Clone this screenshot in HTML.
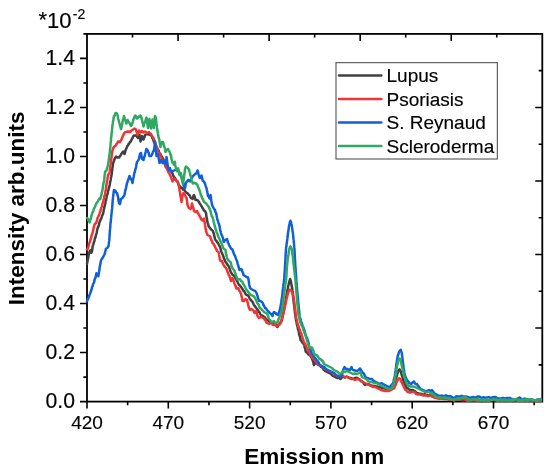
<!DOCTYPE html>
<html><head><meta charset="utf-8"><title>Emission spectra</title>
<style>html,body{margin:0;padding:0;background:#fff;}body{width:550px;height:473px;overflow:hidden;}svg{display:block;}</style>
</head><body>
<svg width="550" height="473" viewBox="0 0 550 473">
<rect width="550" height="473" fill="#fff"/>
<rect x="87.0" y="33.9" width="455.30" height="367.70" fill="none" stroke="#000" stroke-width="1.8"/><path d="M80.00 401.60H87.00M83.40 377.09H87.00M80.00 352.57H87.00M83.40 328.06H87.00M80.00 303.55H87.00M83.40 279.03H87.00M80.00 254.52H87.00M83.40 230.01H87.00M80.00 205.49H87.00M83.40 180.98H87.00M80.00 156.47H87.00M83.40 131.95H87.00M80.00 107.44H87.00M83.40 82.93H87.00M80.00 58.41H87.00M83.40 33.90H87.00M87.00 401.60V408.60M127.65 401.60V405.20M168.30 401.60V408.60M208.96 401.60V405.20M249.61 401.60V408.60M290.26 401.60V405.20M330.91 401.60V408.60M371.56 401.60V405.20M412.21 401.60V408.60M452.87 401.60V405.20M493.52 401.60V408.60M534.17 401.60V405.20M132.53 33.90V37.50M178.06 33.90V40.90M223.59 33.90V37.50M269.12 33.90V40.90M314.65 33.90V37.50M360.18 33.90V40.90M405.71 33.90V37.50M451.24 33.90V40.90M496.77 33.90V37.50M542.30 364.83H538.70M542.30 328.06H535.30M542.30 291.29H538.70M542.30 254.52H535.30M542.30 217.75H538.70M542.30 180.98H535.30M542.30 144.21H538.70M542.30 107.44H535.30M542.30 70.67H538.70" stroke="#000" stroke-width="1.6" fill="none"/>
<g>
<path d="M87,264 87.23,262.12 87.47,261.85 87.7,260 88,259.15 88.3,257.5 88.57,255.63 88.83,254.49 89.1,253 89.5,251.77 89.9,250.7 90.6,250.2 91,251.73 91.4,252.8 91.8,251.93 92.2,250.2 92.43,248.02 92.67,246.36 92.9,245.5 93.27,244.84 93.63,243.07 94,242 94.38,241.14 94.75,238.75 95.12,238.17 95.5,237 95.8,236.13 96.1,234.19 96.4,234.07 96.7,232.8 97,231 97.38,229.05 97.75,227.79 98.12,227.31 98.5,226 98.88,225.41 99.25,223.32 99.62,221.82 100,221 100.75,219.38 101.5,218 102,215.96 102.5,214.92 103,214 103.25,212.66 103.5,211.49 103.75,209.85 104,209 104.33,207.26 104.67,205.91 105,205 105.25,203.69 105.5,202.18 105.75,200.53 106,200.51 106.25,198.83 106.5,197.71 106.75,195.78 107,195 107.38,194.49 107.75,193.04 108.12,190.68 108.5,190 108.8,188.35 109.1,187.53 109.4,186.12 109.7,185.05 110,183 110.25,181.55 110.5,180.83 110.75,179.26 111,177.37 111.25,176.46 111.5,175 111.67,174.35 111.83,173.07 112,171.34 112.17,170.24 112.33,168.19 112.5,167.28 112.67,166.89 112.83,165.09 113,164 113.38,162.26 113.75,161.57 114.12,160.55 114.5,159 115.25,158.01 116,156.5 117.5,157.5 119,157.5 119.75,156.31 120.5,155.5 121.25,154.16 122,153 123.5,151.5 124,152.76 124.5,154 124.88,153.17 125.25,151.53 125.62,150.09 126,149 126.67,147.82 127.33,145.96 128,145.5 128.67,143.65 129.33,143.47 130,142 130.67,141.72 131.33,140.14 132,139 132.67,137.67 133.33,136.17 134,135.5 136,135.5 137,136.75 138,138 138.75,137.22 139.5,135 139.7,136.71 139.9,137.66 140.1,139.44 140.3,139.8 140.5,141.5 140.88,140.15 141.25,139.43 141.62,137.49 142,136 142.5,137.11 143,137.99 143.5,139.5 144,138.07 144.5,137.19 145,135 147,134 149,134.5 151,135.5 151.67,135.93 152.33,138.26 153,139 153.5,140.73 154,142.08 154.5,143.11 155,144 155.6,145.66 156.2,146.43 156.8,147.69 157.4,148.69 158,150 158.6,150.43 159.2,152.76 159.8,153.4 160.4,153.95 161,155.5 161.67,156.51 162.33,157.48 163,158.5 163.5,159.54 164,160.77 164.5,162.31 165,163.69 165.5,164.92 166,166 166.67,166.94 167.33,167.29 168,169 169,169.34 170,170.5 171,171.02 172,172.5 172.5,173.88 173,175 173.67,176.54 174.33,177.45 175,178 175.67,179.45 176.33,180.47 177,181 177.67,181.97 178.33,184.18 179,185 179.67,186.26 180.33,186.37 181,188 182,188.03 183,189.5 184,189.52 185,191 186,192.38 187,193 188,193.62 189,195 189.67,195.41 190.33,197.19 191,198 192.5,199 193,197.43 193.5,195.69 194,195 194.38,195.74 194.75,197.54 195.12,198.25 195.5,200 197,200 198,200.66 199,202 199.67,203.48 200.33,204.27 201,205.5 201.75,206.48 202.5,208 203.25,209.21 204,210.5 205,211.04 206,213 206.17,214.16 206.33,215.55 206.5,217 206.75,217.78 207,218.91 207.25,221.35 207.5,222 207.83,223.35 208.17,224.23 208.5,226 209.25,227.16 210,228 211,229.48 212,230 212.75,230.78 213.5,233 213.8,233.48 214.1,234.87 214.4,236.93 214.7,237.29 215,239 215.75,240.31 216.5,241 217.25,242.27 218,243 218.75,244.57 219.5,246 220,246.83 220.5,248.5 221,250.71 221.5,251.95 222,253 222.5,254.36 223,255.25 223.5,257 224,258.56 224.5,259.51 225,261 225.67,262.11 226.33,262.73 227,264 227.75,265.2 228.5,266 229,266.67 229.5,268.36 230,270 230.75,272.2 231.5,273 232.25,274.56 233,275 234,275.71 235,277 235.75,279.04 236.5,280 237.25,281.22 238,283 239,284.91 240,285.5 240.67,286.87 241.33,287.37 242,288.5 242.75,289.38 243.5,291 244.25,291.26 245,293 246,294.57 247,295 248,295.31 249,297 249.67,298.48 250.33,299.69 251,300 251.67,301.11 252.33,301.51 253,303 253.67,304.55 254.33,305.71 255,306 255.67,307.31 256.33,308.01 257,309 257.67,309.82 258.33,310.77 259,312 259.67,312.56 260.33,314.26 261,315 262,315.57 263,315.87 264,317 265,317.41 266,319.25 267,320 268,320.36 269,321.33 270,322 271.5,322.24 273,323 274.5,324.31 276,324.5 276.75,326.35 277.5,327 278.25,325.28 279,325 279.83,323.22 280.67,322.07 281.5,321 281.79,320.44 282.07,318.85 282.36,316.9 282.64,315.43 282.93,314.83 283.21,313.79 283.5,312 283.76,311.36 284.01,309.19 284.27,308.72 284.53,307.14 284.79,305.55 285.04,305.01 285.3,303 285.52,301.27 285.73,300.67 285.95,298.38 286.17,297.17 286.38,296.95 286.6,295 286.85,293.19 287.1,292.64 287.35,291.03 287.6,289.5 287.85,288.76 288.1,286.8 288.35,285.51 288.6,284.5 288.9,283.02 289.2,282.72 289.5,281 290.1,279 290.8,281 291.07,282.49 291.33,284.35 291.6,285 291.78,286.78 291.96,286.85 292.14,288.68 292.32,289.21 292.5,291 292.65,291.64 292.8,293.03 292.95,295.55 293.1,296.77 293.25,298.16 293.4,299 293.54,300.01 293.67,301.67 293.81,303.17 293.95,303.82 294.09,305.36 294.23,306.09 294.36,307.12 294.5,309 294.67,309.94 294.84,312.16 295.01,312.95 295.19,314.78 295.36,315.37 295.53,316.38 295.7,318 295.96,319.83 296.22,321.29 296.48,321.47 296.74,323.86 297,325 297.33,325.72 297.67,327.09 298,329.58 298.33,329.64 298.67,331.28 299,333 299.3,335.13 299.6,335.68 299.9,336.62 300.2,338.1 300.5,340 301.25,340.61 302,342 303,343.37 304,344 304.33,344.74 304.67,347.28 305,348 305.33,349.15 305.67,351.37 306,352 307.5,353 308.5,354.61 309.5,355 310.25,355.69 311,357 311.75,358.13 312.5,360 312.88,361.22 313.25,361.9 313.62,363.98 314,365 314.75,363.31 315.5,363 317,364 319,365 320,365.27 321,367 323,368 323.67,369.72 324.33,369.69 325,371 327,372 329,373 331,374 332,375.14 333,376 335,377 337,378 339,378 340.5,379 341.25,377.92 342,377 343.5,376.97 345,377.5 346.5,376.59 348,377 349.5,378.12 351,378 352.33,378.7 353.67,378.7 355,378 356.33,377.75 357.67,378.24 359,379 360,379.93 361,381.22 362,381.31 363,382 363.67,383.28 364.33,384.24 365,385 367,384 368.5,384.14 370,385 371.5,385.56 373,386 374.5,385.96 376,386.5 377.5,386.62 379,387.5 380.5,387.12 382,388 383.5,387.92 385,388.5 386.5,389.48 388,389 389.5,388.42 391,388 392,387.23 393,386 393.55,384.97 394.1,384.16 394.65,382.09 395.2,381 395.55,379.54 395.9,378.41 396.25,377.23 396.6,376.85 396.95,375.76 397.3,374 397.7,372.54 398.1,371.42 398.5,370.5 399.6,369.3 400.2,370.47 400.8,371.5 401.1,372.79 401.4,373.98 401.7,375 402.02,375.87 402.35,376.78 402.68,378.37 403,380 403.5,380.61 404,382.58 404.5,383.11 405,385 405.67,385.36 406.33,387.2 407,388 408,388.44 409,389.5 411,390 413,390 415,391 416,392.44 417,393 419,393.5 420.5,393.74 422,394 423.33,394.88 424.67,394.15 426,395 427.33,395 428.67,395.44 430,395 431.33,394.87 432.67,396.67 434,396.5 435.33,396.34 436.67,397.58 438,397.5 439.33,398.39 440.67,398.32 442,398 443.33,397.9 444.67,397.74 446,398.5 447.33,398.69 448.67,399.46 450,399 451.25,398.82 452.5,399.84 453.75,398.84 455,399.5 456.25,400.12 457.5,398.8 458.75,399.22 460,399.5 461.2,400.2 462.4,400.16 463.6,400.41 464.8,400.41 466,400 467.2,400.37 468.4,400.28 469.6,399.52 470.8,399.9 472,400 473.33,399.57 474.67,400.49 476,400.5 477.33,399.96 478.67,399.76 480,400.5 481.25,401.2 482.5,400.96 483.75,400.57 485,400.56 486.25,401.03 487.5,400.43 488.75,400.34 490,400.5 491.25,400.26 492.5,400.14 493.75,399.79 495,400.72 496.25,400.38 497.5,400.61 498.75,399.84 500,400.5 501.25,400.28 502.5,399.96 503.75,399.94 505,400.14 506.25,400.99 507.5,400.35 508.75,400.35 510,400.5 511.25,400.67 512.5,400.1 513.75,399.76 515,400.54 516.25,400.5 517.5,400.72 518.75,400.41 520,400.5 521.25,400.78 522.5,400.85 523.75,400.11 525,400.49 526.25,400.47 527.5,400.09 528.75,400.37 530,400.5 531.22,400.59 532.44,401.11 533.67,401.13 534.89,400.16 536.11,400.72 537.33,399.82 538.56,399.86 539.78,400.52 541,400.5" fill="none" stroke="#404040" stroke-width="2.5" stroke-linejoin="round" stroke-linecap="round"/><path d="M87,249.5 87.53,249.02 88.07,247.84 88.6,246 88.93,244.17 89.27,243.04 89.6,242.5 90,241.75 90.4,240 90.77,239.02 91.13,237.59 91.5,236 91.88,234.46 92.25,233.66 92.62,232.41 93,231 93.3,229.82 93.6,227.89 93.9,227 94.2,225.64 94.5,224.5 96,223 96.38,222.08 96.75,221.24 97.12,219.92 97.5,218 98.25,216.57 99,215 99.5,213.58 100,211.99 100.5,211 100.88,209.05 101.25,207.79 101.62,207.2 102,206 102.3,204.53 102.6,203.42 102.9,202.99 103.2,201.24 103.5,200 103.88,198.84 104.25,197.1 104.62,195.54 105,195 105.2,193.34 105.4,191.66 105.6,190.82 105.8,190.15 106,188 106.2,186.86 106.4,184.72 106.6,184.39 106.8,182.85 107,181 107.2,180.15 107.4,179.21 107.6,177.79 107.8,176.63 108,175 108.75,173.78 109.5,173 109.67,172.39 109.83,171.03 110,168.49 110.17,168.05 110.33,166.66 110.5,165 110.67,163.61 110.83,162.38 111,160.99 111.17,160.3 111.33,158.33 111.5,157 111.66,156.3 111.82,154.38 111.98,153.97 112.14,152.8 112.3,151 112.7,149.77 113.1,148.77 113.5,147.5 115,146 115.75,145.63 116.5,144 117.25,143.09 118,141.5 120,142 120.75,140.73 121.5,139.5 122,137.83 122.5,137 123,135.57 123.5,134.97 124,133.5 125,132.25 126,132 128,131.5 130,132 131.5,130.5 133,129.5 134.5,128.5 136,129.5 136.38,131.49 136.75,131.9 137.12,134.24 137.5,135 138,133.21 138.5,132.69 139,130.5 139.75,131.81 140.5,132.5 142,131 143.5,132.5 145,131.5 146,132.26 147,133 149,132 150,133.03 151,134 151.67,135.39 152.33,136.47 153,137.5 153.5,138.34 154,139.31 154.5,140.89 155,142 155.5,144.15 156,145 156.4,146.38 156.8,146.76 157.2,149.08 157.6,150.14 158,151 158.6,152.81 159.2,152.94 159.8,154.97 160.4,155.14 161,157 161.6,158.43 162.2,159.06 162.8,160.19 163.4,162.36 164,163 164.5,163.53 165,165.28 165.5,166.91 166,167.5 166.67,168.28 167.33,169.4 168,171 168.67,172.9 169.33,173.55 170,175 171,177 171.5,178.83 172,179.3 172.5,181.5 173.25,179.79 174,178.5 175.5,180 177,181 177.75,182.01 178.5,184 178.7,185.46 178.9,185.77 179.1,188.28 179.3,188.09 179.5,190 179.7,191.54 179.9,191.68 180.1,193.23 180.3,195.27 180.5,196 180.7,196.69 180.9,197.93 181.1,199.89 181.3,200.63 181.5,202 181.7,200.11 181.9,200.34 182.1,197.88 182.3,196.5 182.5,196 183,194.27 183.5,193 184.25,194.17 185,195 185.75,196.86 186.5,198 186.7,198.82 186.9,200.56 187.1,201.5 187.3,203.52 187.5,205 188.25,206.9 189,208 190.5,209 190.88,207.98 191.25,206.85 191.62,205.26 192,203.5 192.33,205.21 192.67,206.14 193,207 193.33,208.29 193.67,209.25 194,211 195.5,212 197,211 197.75,212.74 198.5,214 199,215 199.67,216.06 200.33,217.07 201,219 202.5,220.5 203.25,219.42 204,218.5 204.2,220.36 204.4,220.54 204.6,222.53 204.8,223.54 205,225 205.2,226.22 205.4,226.87 205.6,229.29 205.8,229.44 206,231 206.5,232.49 207,233.55 207.5,235 209.5,236 210.25,236.78 211,239 211.5,240.42 212,241.13 212.5,243 213.25,243.34 214,245 214.75,245.8 215.5,248 216.25,248.99 217,251 218.5,252 218.75,252.64 219,254.7 219.25,255.76 219.5,257 219.83,259.06 220.17,260.32 220.5,261 222,261 222.5,263.08 223,263.27 223.5,265 224.25,265.92 225,267 225.75,267.63 226.5,269 227,270.47 227.5,271.85 228,273 228.75,274.95 229.5,276 229.88,277.56 230.25,278.13 230.62,279.63 231,281 231.75,279.54 232.5,278 233,278.76 233.5,281 234,281.64 234.5,283.53 235,285 235.5,285.58 236,287.67 236.5,288.5 238,288 238.75,289.11 239.5,291 240.25,291.9 241,294 241.3,294.92 241.6,296.4 241.9,297.78 242.2,299.63 242.5,301 244,301 244.75,299.95 245.5,299 247,300 247.3,300.91 247.6,302.61 247.9,303.17 248.2,305.41 248.5,306 249,308.03 249.5,309.01 250,310 251.5,309 253,310 253.75,311.4 254.5,313 255.25,312.02 256,311 256.38,312.37 256.75,312.83 257.12,314.63 257.5,316 258.25,317.04 259,318 261,317 263,318 264,318.52 265,320 265.67,320.39 266.33,322.45 267,323 269,324 271,323 272,323.8 273,325 275,325 277,326 279,325 279.67,324.03 280.33,323.63 281,322 281.33,321 281.67,319.35 282,319.23 282.33,317.14 282.67,315.45 283,315 283.32,313.88 283.64,311.6 283.96,310.51 284.28,309.91 284.6,308 284.88,306.93 285.17,304.61 285.45,303.93 285.73,302.53 286.02,301.31 286.3,300 286.62,298.31 286.95,297.63 287.28,295.61 287.6,295 287.93,293.51 288.27,292.48 288.6,291.5 289.5,290 290.3,289.8 291.2,290.5 292.3,292.5 292.67,294.49 293.03,294.53 293.4,296.5 293.62,298.26 293.85,298.79 294.07,300.73 294.3,302 294.44,303.24 294.58,304.74 294.72,306.58 294.86,307.44 295,309 295.17,309.77 295.33,311.1 295.5,312.37 295.67,314.86 295.83,315.88 296,317 296.3,318.89 296.6,319.69 296.9,319.89 297.2,322.04 297.5,323 297.88,324.67 298.25,325.84 298.62,326.75 299,328 299.5,329.04 300,330.44 300.5,332.2 301,333 301.4,333.85 301.8,335.44 302.2,336.57 302.6,338.48 303,339 303.5,340.71 304,342.15 304.5,343.25 305,344 305.5,344.82 306,345.85 306.5,347.36 307,348.5 307.67,349.47 308.33,351.06 309,352.5 309.67,353.77 310.33,355.13 311,355.5 311.67,356.63 312.33,357.98 313,358.5 314,359.14 315,361 316,361.78 317,363 318,364.75 319,365 321,366 323,367 324,367.47 325,369 327,370 329,371 331,372 332,372.63 333,373.5 334,373.6 335,375 337,376 339,376.5 341,376 343,376 345,377 347,377 349,378 351,379 353,379 355,380 357,379 359,379.5 360,379.63 361,381 363,382 365,383 367,384 369,385 371,386 373,387 375,387 377,388 379,389 381,390 383,390.5 385,391 387,391 389,391 391,390 393,389 393.77,388.43 394.53,387.4 395.3,385.5 395.8,384.6 396.3,382.69 396.8,381.82 397.3,381 397.9,379.5 398.5,378.8 399.3,378.3 400.3,379 400.8,380.42 401.3,381.6 401.8,382.5 402.3,383.53 402.8,384.79 403.3,385.29 403.8,387 404.53,388.06 405.27,389.67 406,390 407,391.38 408,392 410,392.5 412,392 414,392 415,392.39 416,394 418,394.5 420,394.5 422,395 424,395.5 426,395.5 428,396 430,395.5 432,396 433,396.77 434,397.5 436,398 438,398.5 440,398.5 442,398.5 444,399 446,399 448,399 450,399.5 451.25,399.95 452.5,399.39 453.75,400.47 455,400 456.5,399.44 458,399 459.5,399.55 461,399.5 462.5,399.11 464,399 466,400 467.33,400.91 468.67,400.76 470,400.5 471.2,400.61 472.4,399.97 473.6,400.41 474.8,399.79 476,400.5 477.2,400.64 478.4,401.07 479.6,400.02 480.8,400.52 482,400.5 483.2,400.47 484.4,400.36 485.6,400.82 486.8,401.16 488,400.5 489.33,400.64 490.67,400.13 492,400 494,399 496,400 497.33,400.86 498.67,400.08 500,400.5 501.25,400.87 502.5,400.74 503.75,400.89 505,401.03 506.25,400.09 507.5,400.68 508.75,400.35 510,400.5 511.25,400.75 512.5,401.22 513.75,400.7 515,399.77 516.25,400.45 517.5,400.82 518.75,401.07 520,400.5 521.25,400.73 522.5,400.97 523.75,399.78 525,401.16 526.25,400.84 527.5,400.66 528.75,401.11 530,400.5 531.22,401.13 532.44,400.01 533.67,401.14 534.89,401.12 536.11,400.33 537.33,401.2 538.56,401.02 539.78,400.48 541,401" fill="none" stroke="#ef3434" stroke-width="2.5" stroke-linejoin="round" stroke-linecap="round"/><path d="M87,301.4 87.5,299.81 88,299 88.5,297.82 89,296.5 89.6,294.65 90.2,293.2 90.75,291.76 91.3,290 91.7,289.02 92.1,287.01 92.5,286.5 93.05,284.17 93.6,283.3 94.05,282.41 94.5,280.14 94.95,278.7 95.4,277.7 95.73,276.98 96.07,274.72 96.4,273.3 97.3,274.5 98.2,276.3 98.55,275.15 98.9,273 99.1,271.63 99.3,270.54 99.5,269 99.73,266.98 99.97,266.2 100.2,264.5 100.47,263.72 100.73,261.87 101,260.5 102,258.6 102.7,257.81 103.4,256.3 104.15,255.06 104.9,253.3 105.23,251.11 105.57,250.62 105.9,248.7 107.5,247.7 108.5,246 108.67,244.89 108.85,243.2 109.03,241.55 109.2,241 109.28,240.35 109.36,238.56 109.44,237.73 109.52,236.77 109.6,235.32 109.68,234.43 109.76,232.44 109.84,231.85 109.92,230.12 110,229 110.12,228.4 110.25,227.07 110.38,224.65 110.5,223.45 110.62,222.33 110.75,222.2 110.88,220.15 111,219 111.12,217.94 111.25,216.2 111.38,215.26 111.5,213.83 111.62,212.53 111.75,211.63 111.88,210.38 112,209 112.1,208.41 112.2,206.87 112.3,206.04 112.4,204.73 112.5,203.74 112.6,202.06 112.7,200.09 112.8,199.94 112.9,198.9 113,197 113.2,196.21 113.4,194.3 113.6,193.12 113.8,190.97 114,190 115.5,191 116.25,192.5 117,193 117.33,194.44 117.67,195.34 118,197 118.2,197.55 118.4,199.93 118.6,201.33 118.8,201.18 119,203 120,204 120.25,203.2 120.5,201.37 120.75,199.73 121,199 122.5,198 123.25,196.69 124,196 124.33,195.07 124.67,193.89 125,192 125.33,189.98 125.67,189.51 126,188 126.25,186.07 126.5,185.83 126.75,184 127,183 127.5,182.07 128,180 128.5,179.39 129,177.34 129.5,176 130.25,178.25 131,179 131.5,180.05 132,181.03 132.5,183 132.75,181.82 133,179.63 133.25,178.55 133.5,177.53 133.75,176.5 134,175 134.3,173.28 134.6,171.91 134.9,171.95 135.2,169.92 135.5,169 135.8,168.29 136.1,166.79 136.4,164.62 136.7,163.34 137,162 137.75,161.03 138.5,160 138.8,159.02 139.1,157.74 139.4,156.49 139.7,155.38 140,154 141,153 141.2,154.86 141.4,155.41 141.6,156.5 141.8,158.13 142,159 143.5,160 143.88,158.23 144.25,156.95 144.62,156.59 145,154.5 145.38,153.16 145.75,151.82 146.12,149.64 146.5,149 147.25,149.87 148,151 148.38,152.37 148.75,152.78 149.12,154.92 149.5,156 151,156 151.75,154.95 152.5,153.5 153,151.67 153.5,151.36 154,150 154.14,148.74 154.29,147.84 154.43,146.14 154.57,145.45 154.71,144.29 154.86,142 155,141.5 155.12,142.05 155.25,144.18 155.38,145.82 155.5,145.96 155.62,147.48 155.75,148.89 155.88,149.69 156,150.96 156.12,152.09 156.25,153.39 156.38,154.94 156.5,156 157.5,154 158,155.2 158.5,157 158.7,158.02 158.9,159.81 159.1,159.89 159.3,161.9 159.5,163 160.25,161.85 161,160 161.75,161.22 162.5,163 163.25,161.58 164,161 164.75,162.96 165.5,164 165.7,162.21 165.9,160.73 166.1,159.7 166.3,158.7 166.5,157 166.7,157.8 166.9,159.53 167.1,160.95 167.3,163.1 167.5,164 167.7,165.11 167.9,166.93 168.1,167.1 168.3,168.56 168.5,170 169.25,169.23 170,168 170.33,169.74 170.67,170.26 171,171.5 173,171 175,170 177,170 178,170.5 178.67,171.25 179.33,172.26 180,174 180.67,175.38 181.33,176.2 182,178 182.29,179.75 182.57,181.08 182.86,181.38 183.14,182.81 183.43,184.89 183.71,185.93 184,187 185,188 185.25,187.21 185.5,185.27 185.75,183.69 186,183 186.67,181.69 187.33,181.44 188,180 189,180.41 190,181.5 190.67,179.94 191.33,178.71 192,177.5 193,176.13 194,175 195,174.11 196,173.5 196.75,172.63 197.5,170.5 197.83,171.15 198.17,172.09 198.5,174 199,176 199.5,177.24 200,178 200.75,177.48 201.5,175.5 201.88,176.78 202.25,178.93 202.62,180.27 203,181 204,181.83 205,183.5 205.5,185.37 206,187.01 206.5,188 206.75,189.58 207,190.7 207.25,191.68 207.5,193.09 207.75,194.26 208,196 208.75,196.6 209.5,198.5 209.83,197.47 210.17,195.85 210.5,195 210.7,196.87 210.9,197.12 211.1,199.81 211.3,200.89 211.5,202 211.88,203.89 212.25,205.09 212.62,206.35 213,207 213.75,208.37 214.5,209.5 215,209.94 215.5,212.2 216,213 216.3,213.91 216.6,215.5 216.9,217.44 217.2,218.64 217.5,220 218,221.2 218.5,223.33 219,224 219.25,225.42 219.5,226.26 219.75,227.38 220,229 220.33,230.88 220.67,231.63 221,233 221.5,234.76 222,235.44 222.5,237 222.88,237.8 223.25,239.55 223.62,241.23 224,242 224.75,240.51 225.5,240 227,239 227.5,240.94 228,242.63 228.5,243.5 229.25,245.46 230,246.5 230.75,248.24 231.5,249 232.25,249.26 233,251 233.5,252.53 234,254.21 234.5,255 235,255.66 235.5,257.32 236,259 237,261 237.33,261.99 237.67,263.71 238,265 238.38,266.13 238.75,267.46 239.12,269.16 239.5,270 241,269 241.75,269.75 242.5,272 243,272.83 243.5,275 245,276 246.5,277 248,277.5 248.25,278.32 248.5,279.69 248.75,280.98 249,283 249.25,284.96 249.5,286.03 249.75,286.13 250,288 251,288.75 252,289.5 254,290.5 255,290.97 256,292 256.5,293.06 257,294.44 257.5,296 257.88,297.47 258.25,298.63 258.62,299.54 259,301 260.5,301 262,302 262.75,303.04 263.5,305 264.25,306.24 265,308 266,308.44 267,310 268,311.08 269,312 270,313.32 271,314 271.75,314.82 272.5,316 273,314.04 273.5,312.85 274,312 275.5,313 277,314.5 278,315 278.5,313.48 279,312.49 279.5,311 279.78,310.09 280.07,308.15 280.35,307.45 280.63,305.85 280.92,304.23 281.2,303 281.38,301.48 281.57,300.33 281.75,299.3 281.93,297.55 282.12,296.62 282.3,295 282.45,293.61 282.6,291.95 282.75,291.05 282.9,289.96 283.05,287.69 283.2,287 283.37,285.55 283.53,284.22 283.7,283.57 283.87,282.32 284.03,280.14 284.2,279 284.28,278.32 284.36,276.89 284.45,274.83 284.53,273.86 284.61,272.07 284.69,271.83 284.77,270.33 284.85,269.4 284.94,267.98 285.02,266.52 285.1,265 285.17,264.1 285.23,262.6 285.3,260.65 285.37,260.13 285.43,258.01 285.5,256.97 285.57,256.66 285.63,254.32 285.7,253.14 285.77,251.9 285.83,251.82 285.9,250 286.07,248.19 286.23,246.62 286.4,246.51 286.57,244.1 286.73,243.85 286.9,242 287.07,240.93 287.23,239.84 287.4,238.68 287.57,236.79 287.73,235.78 287.9,234 288.1,231.9 288.3,231.6 288.5,229.82 288.7,228.72 288.9,227 289.2,224.91 289.5,224.37 289.8,222.5 290.4,220.8 291.1,222.5 291.4,224.65 291.7,224.84 292,227 292.2,228.14 292.4,229.9 292.6,231.69 292.8,232.21 293,234 293.13,234.85 293.27,236.29 293.4,238.17 293.53,239.71 293.67,240.51 293.8,242 293.92,243.13 294.03,244.51 294.15,245.78 294.27,247.21 294.38,248.04 294.5,250 294.57,251.25 294.63,253.21 294.7,253.62 294.77,255.37 294.83,255.74 294.9,257.79 294.97,259.13 295.03,260.26 295.1,261.28 295.17,262.48 295.23,263.96 295.3,265 295.38,266.85 295.47,266.97 295.55,268.14 295.63,270.37 295.72,271.87 295.8,272.53 295.88,273.66 295.97,275.33 296.05,275.78 296.13,277.15 296.22,278.3 296.3,280 296.4,281.38 296.5,282.22 296.6,283.35 296.7,285.29 296.8,286.93 296.9,287.19 297,289.06 297.1,290 297.21,291.12 297.33,293.03 297.44,293.88 297.55,294.65 297.66,295.83 297.77,296.78 297.89,298.72 298,300 298.13,301.09 298.26,302.05 298.39,303.6 298.52,304.81 298.65,306.76 298.78,307.08 298.92,309.62 299.05,310.12 299.18,311.57 299.31,312.64 299.44,314.46 299.57,315.71 299.7,316.5 300.08,317.8 300.47,318.91 300.85,320.48 301.23,321.9 301.62,322.43 302,323.8 302.4,325.29 302.8,326.77 303.2,327.17 303.6,327.95 304,329.5 304.4,330.3 304.8,332.23 305.2,333.36 305.6,334.99 306,335.5 306.5,337.41 307,337.86 307.5,339.16 308,341 308.3,341.9 308.6,343.05 308.9,345.09 309.2,346.58 309.5,347.3 310,349.3 310.5,349.73 311,351.5 311.75,353.55 312.5,354.5 313.25,355.47 314,357 315,357.88 316,359 316.67,360.34 317.33,360.38 318,362 318.67,362.39 319.33,364.5 320,365 322,366 324,367 325,367.69 326,369 328,370 330,371 332,372 334,373 335,373.78 336,375 338,376 340,377 341,376.12 342,375 342.3,374.06 342.6,371.86 342.9,371.15 343.2,370.1 343.5,369 344.5,367 345.25,367.98 346,369 347.5,369 348.25,369.57 349,371 349.75,370.13 350.5,369 351.5,367 352.25,369.18 353,370 355,370.5 357,371 358.5,370 360,368.5 360.75,369.59 361.5,371 362.25,372.07 363,373 363.75,373.43 364.5,375 365.25,376.16 366,378 368,378 370,379 372,379 373,380.25 374,381 376,382 378,383 380,384 381.5,383 383,384 385,385 387,386 389,387 391,386 392,384.17 393,383.5 393.3,382.83 393.6,381.61 393.9,379.15 394.2,379.16 394.5,377.06 394.8,376 394.98,375.08 395.17,373.72 395.35,371.69 395.53,370.93 395.72,369.56 395.9,368 396.1,367.06 396.3,364.85 396.5,364.18 396.7,363.09 396.9,361 397.15,359.88 397.4,358.3 397.65,356.29 397.9,355.5 398.37,354.16 398.83,352.61 399.3,351.5 400.7,349.7 401.2,351.43 401.7,352.5 401.88,354.07 402.06,355.2 402.24,355.92 402.42,357.92 402.6,359 402.73,360.53 402.87,361.19 403,363.58 403.13,364.57 403.27,365.1 403.4,367 403.61,368.86 403.83,368.89 404.04,370.39 404.26,372.19 404.47,373.22 404.69,374.37 404.9,375.5 405.38,376.85 405.85,377.69 406.32,378.59 406.8,380 407.53,380.51 408.27,381.35 409,383 411,384 412.5,382.5 414,381.5 414.75,383.07 415.5,384 417,384 417.67,385.38 418.33,386.06 419,387 420,388.36 421,389 423,390 425,391 427,391 429,390 430.5,391.02 432,390.1 432.67,390.92 433.33,391.82 434,393.2 436,394.3 438,395.4 440,396 442,395.6 444,396.2 446,395.3 448,396.4 450,396 451.25,396.58 452.5,397.5 453.75,398.06 455,397.5 456.25,396.31 457.5,396.5 458.75,396.51 460,396.5 461.25,395.87 462.5,396 463.75,396.65 465,396.5 466.25,396.53 467.5,397 468.75,397.25 470,398 471.25,397.36 472.5,397 473.75,397.31 475,397.5 476.25,397.41 477.5,396.5 478.75,396.53 480,397 481.25,397.77 482.5,397.5 483.75,397.17 485,398 486.25,397.41 487.5,397.5 488.75,397.15 490,398 492,397.5 494,397 495.5,396.92 497,398 498.5,398.67 500,398.5 501.25,398.59 502.5,398 503.75,398.03 505,399 506.25,398.03 507.5,398 508.75,397.87 510,398 511.25,398.86 512.5,399 513.75,399.97 515,400 516.25,399.62 517.5,398.5 519.5,397.5 520.5,398.39 521.5,399 523,399.5 524.5,398.5 526,399 528,399.5 530,400.5 531.25,399.72 532.5,400 533.75,400.1 535,400.5 536.5,399.79 538,400 539.5,399.54 541,399" fill="none" stroke="#1060d8" stroke-width="2.5" stroke-linejoin="round" stroke-linecap="round"/><path d="M87.3,218 87.9,218.85 88.5,220.5 89.6,222.5 90.07,220.4 90.53,219.34 91,218 91.38,216.11 91.75,214.6 92.12,213.73 92.5,212.5 93,211.79 93.5,210.28 94,208.5 94.75,207.4 95.5,205.5 96.25,203.58 97,202.5 97.75,201.31 98.5,200 99.5,198.5 100.3,199 100.7,197.33 101.1,195.84 101.5,195 101.71,193.12 101.93,192 102.14,191.78 102.36,190.35 102.57,189.03 102.79,187.74 103,186 103.25,184.29 103.5,183.21 103.75,182.44 104,181 104.14,180.06 104.29,178.96 104.43,177.71 104.57,175.24 104.71,174.73 104.86,173.54 105,172 106.5,170.5 106.88,169.13 107.25,167.27 107.62,166.34 108,165 108.2,162.98 108.4,162.85 108.6,161.35 108.8,159.47 109,158 109.17,156.37 109.33,155.95 109.5,154.11 109.67,153.24 109.83,151.86 110,150 110.12,148.76 110.25,147.37 110.38,146.4 110.5,144.9 110.62,143.24 110.75,142.21 110.88,141.72 111,140 111.12,138.06 111.25,136.82 111.38,136.44 111.5,134.67 111.62,133.8 111.75,132.46 111.88,131.01 112,130.75 112.12,128.29 112.25,127.37 112.38,125.8 112.5,125 112.71,123.91 112.93,122.09 113.14,120.93 113.36,120.23 113.57,118.3 113.79,117.37 114,116 114.67,115.61 115.33,113.4 116,113 116.75,113.34 117.5,115 117.8,115.99 118.1,118.2 118.4,119.37 118.7,120.21 119,122 119.33,122.91 119.67,123.85 120,125.44 120.33,125.98 120.67,128.13 121,129 121.3,128.19 121.6,126.88 121.9,125.15 122.2,124.09 122.5,122 122.8,120.08 123.1,119.28 123.4,119.1 123.7,117.61 124,116 124.38,117.12 124.75,119.16 125.12,119.93 125.5,121 126,122.73 126.5,123.5 126.83,122.02 127.17,120.7 127.5,120 128.25,121.17 129,122.5 129.67,123.12 130.33,124.66 131,126 131.75,125.19 132.5,123 132.88,121.5 133.25,119.76 133.62,118.57 134,118 134.75,116.25 135.5,115.5 136.25,117.43 137,118.5 138.5,117 139.5,116.04 140.5,115.5 141,116.69 141.5,117.9 142,120 142.3,122.02 142.6,122.49 142.9,123.46 143.2,124.54 143.5,126.5 144,124.33 144.5,123 145,122 145.5,120.77 146,118.47 146.5,117.5 146.69,118.12 146.88,120.11 147.06,121.06 147.25,123.5 147.44,123.5 147.62,125.42 147.81,127.1 148,128 148.21,126.58 148.43,126.16 148.64,124.11 148.86,122.47 149.07,121.44 149.29,119.59 149.5,119 149.69,120.07 149.88,121 150.06,123.15 150.25,124.25 150.44,124.94 150.62,125.42 150.81,126.94 151,128.5 151.21,126.83 151.43,125.49 151.64,124.24 151.86,123.91 152.07,121.53 152.29,120.11 152.5,119.5 152.69,121.36 152.87,122.03 153.06,123.88 153.24,124.21 153.43,126.17 153.61,127.02 153.8,128 153.92,127.24 154.04,125.97 154.16,124.39 154.28,122.59 154.4,121.57 154.52,121.36 154.64,120.2 154.76,119.04 154.88,116.95 155,116 156,118 156.12,119.49 156.25,120.95 156.38,121.96 156.5,123.47 156.62,124.29 156.75,125.73 156.88,127.03 157,128 157.2,128.85 157.4,131.03 157.6,132.28 157.8,132.16 158,134 158.3,136.11 158.6,137.49 158.9,138.45 159.2,138.92 159.5,141 159.7,142.8 159.9,142.84 160.1,145.3 160.3,146.05 160.5,147 160.88,145.09 161.25,144 161.62,143.45 162,142 163,142 163.38,143.35 163.75,144.87 164.12,146.39 164.5,147 164.75,147.83 165,148.75 165.25,151.38 165.5,152 166.25,150.27 167,150 168,149 168.67,150.9 169.33,151.09 170,153 170.5,154.71 171,155.5 171.25,157.3 171.5,158.82 171.75,159.7 172,161 172.6,162.73 173.2,162.89 173.8,164.5 174.3,163.36 174.8,161.7 175.03,162.87 175.25,165.14 175.47,166.39 175.7,167.4 176.17,168.62 176.63,169.97 177.1,171.2 177.6,169.04 178.1,168.3 178.38,168.94 178.66,171.12 178.94,172.3 179.22,174.21 179.5,175 180.2,174.16 180.9,173 181.1,173.8 181.3,175.47 181.5,177.42 181.7,178.39 181.9,179.7 182.27,180.4 182.63,183.07 183,184 183.19,183.21 183.37,180.81 183.56,180.21 183.74,178.68 183.93,178 184.11,176 184.3,175 184.48,173.2 184.66,172.18 184.84,171.5 185.02,168.79 185.2,168 186,166.5 187.2,167.5 188.6,169 189.07,169.76 189.53,171.85 190,173 190.32,174.95 190.65,175.77 190.98,177.03 191.3,178.5 191.65,180.29 192,181.41 192.35,181.6 192.7,183.5 194.5,182.8 196,183.5 197.5,185 198,187.07 198.5,188 199,188.79 199.5,190.5 200,191.7 200.5,193.5 200.93,195.17 201.37,195.72 201.8,197 202.3,198.61 202.8,198.83 203.3,200.5 204.4,202.31 205.5,203 206.5,203.76 207.5,205.5 208.25,205.97 209,207.5 209.5,208.66 210,209.59 210.5,211 210.83,212.4 211.17,214.27 211.5,215 212,216.65 212.5,216.93 213,219 213.33,220.05 213.67,221.73 214,223 214.3,224.18 214.6,225.72 214.9,226.58 215.2,227.16 215.5,229 216,229.95 216.5,232.19 217,233 217.5,234.04 218,235.9 218.5,237.48 219,238 219.67,239.52 220.33,240.93 221,242 221.5,243.5 222,244.39 222.5,246 223.25,248.12 224,249 225.5,250 225.67,251.28 225.83,253.28 226,254 226.38,254.96 226.75,257.05 227.12,258.18 227.5,259 228.25,260.17 229,261 230.5,262 230.83,263.25 231.17,264.13 231.5,266 232.25,267.91 233,269 233.75,269.79 234.5,271 234.88,272.49 235.25,272.95 235.62,274.12 236,276 236.5,276.63 237,278.8 237.5,279.5 239.5,279 240.25,279.52 241,281 242.5,282 243.25,284.1 244,285 244.75,286.31 245.5,288 246.25,289.36 247,290.5 248,291.53 249,293 250,294.18 251,295 253,296 254,296.39 255,298 255.75,299.35 256.5,301 257.25,303.15 258,304 258.67,304.85 259.33,306.9 260,308 261,308.74 262,310 263,310.7 264,312 266,313 266.67,313.28 267.33,314.28 268,316 268.67,318.01 269.33,319.16 270,320 271,321.45 272,322 274,321 274.75,322.46 275.5,323 277,322.5 277.67,321.85 278.33,319.32 279,318.5 279.5,317.29 280,315.83 280.5,314.5 280.88,313.24 281.25,312.41 281.62,310.77 282,309 282.2,308.5 282.4,306.03 282.6,305.63 282.8,304.46 283,303 283.17,302.03 283.33,300.51 283.5,299.5 283.67,297.37 283.83,296.98 284,295 284.17,293.53 284.33,292.48 284.5,291.6 284.67,289.97 284.83,288.05 285,287 285.2,285.26 285.4,284.07 285.6,283.19 285.8,282.41 286,280.93 286.2,279 286.28,277.55 286.36,276.25 286.44,275.58 286.52,273.48 286.6,272.37 286.68,270.47 286.76,269.43 286.84,268.66 286.92,267.59 287,266 287.14,264.92 287.27,263.3 287.41,262.93 287.55,261.18 287.69,259.23 287.83,257.85 287.96,257.96 288.1,256 288.3,255.53 288.5,254.23 288.7,252.56 288.9,250.92 289.1,250 289.45,248.14 289.8,247.5 290.4,246.3 291.1,247.5 291.5,248.39 291.9,250 292.08,250.78 292.26,253.04 292.44,254.19 292.62,255.22 292.8,256 292.93,256.76 293.06,258.18 293.19,259.56 293.31,261.81 293.44,261.92 293.57,264.15 293.7,265 293.84,266.56 293.99,267.64 294.13,269.55 294.27,269.79 294.41,271.47 294.56,272.2 294.7,274 294.85,274.73 295,275.96 295.15,277.72 295.3,278.77 295.45,280.01 295.6,282 295.7,283.96 295.8,284.13 295.9,286.25 296,287.19 296.1,288.46 296.2,289.57 296.3,291.23 296.4,292.35 296.5,293 296.6,294.53 296.7,295.49 296.8,296.89 296.9,298.14 297,299.08 297.1,300.2 297.2,300.88 297.3,303.12 297.4,303.78 297.5,305 297.62,305.6 297.75,307 297.88,309.31 298,309.63 298.12,311.09 298.25,312.77 298.38,314.29 298.5,315 298.8,315.94 299.1,317.23 299.4,318.48 299.7,319.09 300,321 300.5,322.81 301,322.78 301.5,325.44 302,326 302.5,326.73 303,327.99 303.5,330.27 304,331 304.4,332.69 304.8,333 305.2,334.68 305.6,335.77 306,337 306.38,338.58 306.75,339.03 307.12,341.24 307.5,342 308,344.08 308.5,344.98 309,346 309.75,347.63 310.5,348 312,347.5 312.5,349.32 313,349.65 313.5,351 314,352.85 314.5,354.17 315,355 316.5,355 318,356.5 318.75,357.88 319.5,359 321,359.5 322.5,361 323.25,361.91 324,364 326,365 328,366 330,367 332,368 333,369.18 334,370 336,371 338,372 339,373.62 340,374 341.5,373 342.25,371.71 343,371 345,372 347,371 349,372 351,373 353,374 355,373.5 357,374 359,373 360.5,372 360.88,373.47 361.25,375.1 361.62,375.9 362,377 364,378 366,379 367,379.31 368,381 370,382 372,382 374,383 376,383 378,384 380,385 382,386 384,387 386,388 388,389 390,389 392,388 392.45,387.07 392.9,385.38 393.35,385.16 393.8,383.5 394.07,382.49 394.33,380.71 394.6,380.34 394.87,378.69 395.13,377.01 395.4,376 395.6,375.22 395.8,374.02 396,372.73 396.2,371.43 396.4,369.81 396.6,368.58 396.8,367 397.1,365.86 397.4,364.44 397.7,363.83 398,361.58 398.3,360.5 399.6,358.5 400.25,359.37 400.9,361.5 401.18,363.12 401.46,364.1 401.74,365.47 402.02,366.85 402.3,368 402.6,369.02 402.9,370.35 403.2,371.56 403.5,374.02 403.8,375 404.23,376.86 404.65,377.8 405.07,378.18 405.5,380 406,382.05 406.5,383.16 407,384 408,385.01 409,386 411,386.5 413,386.5 415,387 417,388 419,389 421,390 423,391 425,392 427,392 429,392 431,393.04 433,394.11 434,394.39 435,396.18 437,397.25 439,397.31 441,397.38 443,397.45 445,397.52 447,398.1 449,398.67 451,399.2 452.33,399.72 453.67,399.39 455,399.2 456.25,399.26 457.5,398.23 458.75,399.17 460,398.7 461.25,397.63 462.5,397.92 463.75,397.04 465,397.2 466.25,397.61 467.5,399.04 468.75,399.45 470,399.7 471.25,400.05 472.5,399.15 473.75,399.16 475,399.2 476.25,399.48 477.5,398.75 478.75,399.44 480,399.7 481.25,400.41 482.5,400.08 483.75,400.24 485,399.7 486.25,399.4 487.5,399.99 488.75,400.13 490,399.7 491.25,400.01 492.5,399.61 493.75,399.21 495,399.7 496.25,398.98 497.5,400.28 498.75,400.35 500,399.7 501.25,399.36 502.5,400.08 503.75,399.56 505,399.7 506.25,400.02 507.5,400.46 508.75,399.81 510,400.2 511.25,400.26 512.5,399.58 513.75,399.84 515,399.7 516.25,399.12 517.5,399.6 518.75,399.76 520,400.2 521.25,400.7 522.5,399.4 523.75,400.21 525,399.7 526.25,399.08 527.5,400.43 528.75,399.2 530,399.7 531.25,399.21 532.5,399.52 533.75,400.72 535,400.2 536.2,400.35 537.4,400.59 538.6,399.9 539.8,399.22 541,399.7" fill="none" stroke="#30a864" stroke-width="2.5" stroke-linejoin="round" stroke-linecap="round"/>
</g>
<g font-family="'Liberation Sans', Arial, sans-serif" font-size="21.2" fill="#000" stroke="#000" stroke-width="0.15">
<text x="75" y="408.00" text-anchor="end">0.0</text><text x="75" y="358.97" text-anchor="end">0.2</text><text x="75" y="309.95" text-anchor="end">0.4</text><text x="75" y="260.92" text-anchor="end">0.6</text><text x="75" y="211.89" text-anchor="end">0.8</text><text x="75" y="162.87" text-anchor="end">1.0</text><text x="75" y="113.84" text-anchor="end">1.2</text><text x="75" y="64.81" text-anchor="end">1.4</text><text x="87.00" y="428.6" text-anchor="middle" font-size="19">420</text><text x="168.30" y="428.6" text-anchor="middle" font-size="19">470</text><text x="249.61" y="428.6" text-anchor="middle" font-size="19">520</text><text x="330.91" y="428.6" text-anchor="middle" font-size="19">570</text><text x="412.21" y="428.6" text-anchor="middle" font-size="19">620</text><text x="493.52" y="428.6" text-anchor="middle" font-size="19">670</text>
<text x="38.5" y="27.7" font-size="22"><tspan dy="-0.9">*</tspan><tspan dy="0.9">10</tspan><tspan font-size="14" dx="1.2" dy="-9.1">-2</tspan></text>
</g>
<g font-family="'Liberation Sans', Arial, sans-serif" font-weight="bold" font-size="22.5" fill="#000">
<text x="314.3" y="463.7" text-anchor="middle">Emission nm</text>
<text transform="translate(23.9 208.3) rotate(-90)" text-anchor="middle">Intensity arb.units</text>
</g>
<rect x="336" y="62.65" width="161.35" height="96.35" fill="#fff" stroke="#5a5a5a" stroke-width="1.15"/>
<g stroke-width="2.5" stroke-linecap="round">
<path d="M339 75.5H381.3" stroke="#404040"/>
<path d="M339 99H381.3" stroke="#ef3434"/>
<path d="M339 122.4H381.3" stroke="#1060d8"/>
<path d="M339 145.9H381.3" stroke="#30a864"/>
</g>
<g font-family="'Liberation Sans', Arial, sans-serif" font-size="19" fill="#000" stroke="#000" stroke-width="0.15">
<text x="386.5" y="82">Lupus</text>
<text x="386.5" y="105.5">Psoriasis</text>
<text x="386.5" y="129">S. Reynaud</text>
<text x="386.5" y="152.5">Scleroderma</text>
</g>
</svg>
</body></html>
